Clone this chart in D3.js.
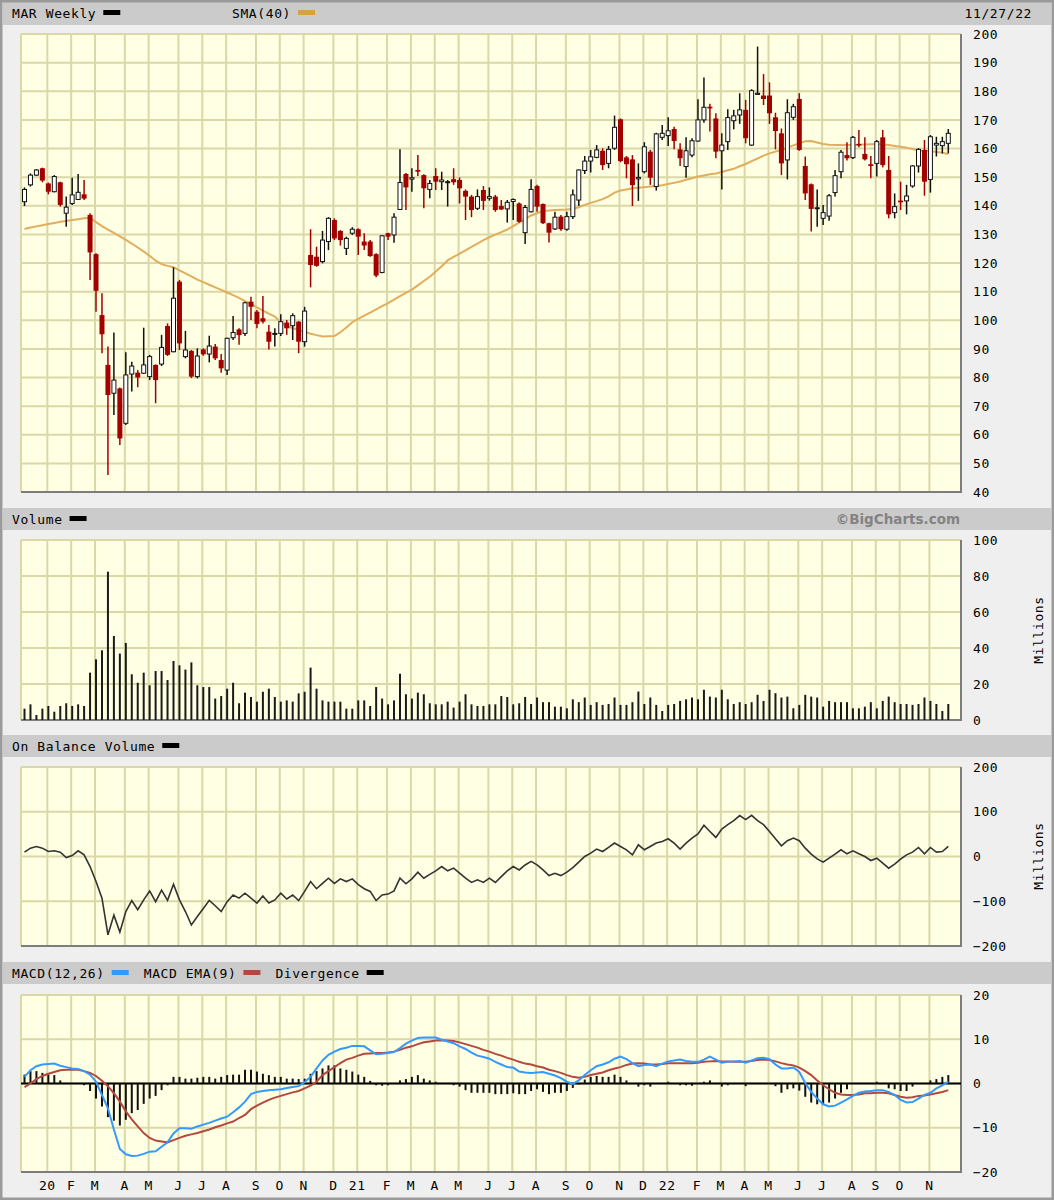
<!DOCTYPE html>
<html>
<head>
<meta charset="utf-8">
<script src="https://cdn.jsdelivr.net/npm/d3@7"></script>
<style>
  body { margin: 0; background: #fff; }
  svg text { font-family: "DejaVu Sans Mono", monospace; font-size: 13px; letter-spacing: 0.6px; fill: #000; }
</style>
</head>
<body>
<div id="chart"></div>
<script>
// ---- data (one entry per week, first week Mon Dec 2 2019) ----
const opens = [141.4,147.3,150.7,153.1,147.8,144.9,148.2,137.4,140.8,142.2,
  144.0,136.8,123.1,101.8,84.4,74.5,76.2,64.0,81.2,81.7,
  81.5,80.3,84.4,84.7,98.0,89.0,113.5,87.3,89.3,80.3,
  89.8,88.2,90.8,86.1,82.6,93.9,96.8,95.4,106.5,103.0,
  100.7,96.0,95.1,95.4,99.2,98.1,99.5,92.5,122.8,122.2,
  120.5,127.5,135.0,131.2,125.1,130.4,131.8,127.5,127.5,123.1,
  116.7,130.4,129.8,138.7,151.1,149.3,152.5,150.7,145.7,150.4,
  148.4,148.1,149.3,149.0,145.2,143.2,139.1,145.5,142.6,143.2,
  139.9,138.9,141.5,140.8,130.6,137.9,146.9,140.6,133.9,131.9,
  136.2,131.8,136.2,142.0,152.3,155.6,156.9,159.2,154.8,160.1,
  170.2,156.9,156.2,149.4,151.9,158.9,146.7,163.9,164.5,166.8,
  159.7,153.7,157.7,162.6,170.0,174.6,170.5,159.2,162.4,169.7,
  171.7,173.5,161.2,178.9,178.5,178.5,170.9,165.3,156.0,170.9,
  177.3,153.9,147.5,139.0,135.6,136.4,144.6,151.9,157.7,156.8,
  161.6,158.1,154.5,154.8,163.9,152.5,137.6,141.8,141.7,146.9,
  153.9,159.5,149.2,161.2,161.0,161.8];
const highs = [146.4,151.3,152.8,153.3,148.1,150.7,148.4,143.2,149.8,151.1,
  149.0,137.4,123.4,109.4,90.8,95.7,76.5,88.8,85.5,82.6,
  97.4,87.9,84.6,94.9,98.9,118.5,114.1,96.3,89.6,90.2,
  90.2,94.6,91.7,88.2,93.9,101.5,97.2,106.5,108.2,103.6,
  108.5,98.3,97.2,102.1,100.1,102.4,99.7,104.7,131.8,125.7,
  131.2,136.0,135.6,131.5,129.2,132.5,132.1,130.4,128.0,123.4,
  129.8,130.6,137.4,159.7,151.4,153.1,157.7,151.0,149.0,153.1,
  151.9,149.0,153.1,149.9,145.7,143.8,145.7,146.9,146.4,143.8,
  142.0,142.0,142.5,141.1,140.3,149.3,147.3,140.8,134.1,137.9,
  136.8,137.9,145.7,152.7,157.4,159.5,161.2,160.1,160.9,171.5,
  170.5,157.4,157.7,154.8,162.2,159.5,165.5,168.2,170.9,167.6,
  161.8,163.9,163.6,177.2,184.8,175.6,172.3,165.3,173.7,173.5,
  179.3,177.0,180.7,195.6,186.0,183.1,172.5,167.0,177.2,175.6,
  179.3,157.2,147.8,145.7,140.3,144.1,152.5,159.5,162.2,164.4,
  166.5,163.9,157.4,163.0,166.5,157.4,144.3,148.4,147.3,154.2,
  160.1,163.0,164.7,164.1,164.1,166.8];
const lows = [139.9,146.7,150.4,148.2,144.0,144.7,139.7,132.7,140.3,142.0,
  142.0,114.1,103.0,88.5,45.9,66.9,56.4,63.4,75.1,76.6,
  81.2,79.1,71.0,84.0,87.5,88.8,89.6,86.7,79.8,79.7,
  87.6,85.3,86.1,81.7,80.9,93.1,91.4,94.5,100.1,97.2,
  98.9,89.8,90.8,94.5,94.9,93.1,88.5,90.8,111.5,118.7,
  119.9,124.5,128.0,126.1,122.8,129.8,122.8,124.5,122.2,115.0,
  116.4,128.0,127.1,138.5,138.5,144.9,150.4,139.1,142.6,145.5,
  145.5,139.7,147.3,140.8,135.0,136.0,138.5,138.5,141.8,137.9,
  138.5,134.1,135.0,134.1,126.6,137.6,137.9,133.6,127.2,131.5,
  131.3,131.3,135.4,139.9,151.1,151.6,156.6,152.5,153.1,159.5,
  155.2,149.6,139.9,141.7,151.3,147.3,145.3,163.0,160.9,159.7,
  153.9,149.8,156.9,162.4,169.0,165.9,156.6,145.7,159.5,166.7,
  168.6,161.8,160.9,178.7,175.2,168.6,159.7,150.7,149.2,170.0,
  159.2,142.0,131.0,132.7,133.3,134.8,143.2,149.6,155.8,156.3,
  160.4,155.8,149.6,150.2,153.4,135.6,135.6,138.5,137.0,146.3,
  151.6,143.5,144.6,157.2,158.3,158.3];
const closes = [145.7,150.7,152.5,148.8,144.9,150.2,140.3,139.5,143.8,144.7,
  142.5,123.7,110.3,95.1,73.9,79.1,58.7,80.9,84.0,80.0,
  84.4,87.3,79.1,90.5,87.9,107.7,91.9,89.6,80.3,87.5,
  88.1,91.0,86.7,83.2,93.7,95.7,94.8,106.1,104.7,98.7,
  99.5,92.5,95.4,99.5,97.2,101.6,92.5,103.2,119.3,119.0,
  128.0,135.6,128.6,128.0,128.6,131.8,129.2,126.1,122.4,115.6,
  129.5,129.2,136.0,148.1,146.4,149.8,151.9,146.1,147.8,148.4,
  149.0,148.4,148.2,146.1,143.2,138.5,143.2,141.7,143.2,138.5,
  138.7,141.2,142.2,134.4,139.4,145.7,139.7,133.9,130.6,136.0,
  131.8,136.2,143.8,152.5,155.6,157.1,159.5,154.2,159.7,167.4,
  155.6,154.5,147.2,149.9,160.6,149.8,165.1,165.3,166.2,162.6,
  156.6,159.2,162.7,170.0,174.4,174.0,158.9,161.2,170.8,171.4,
  173.5,163.6,180.2,179.3,177.3,172.3,166.1,154.8,172.5,174.6,
  159.5,144.3,138.9,139.3,137.6,143.5,150.5,158.7,156.6,163.9,
  161.1,156.2,153.9,162.4,154.2,137.0,139.7,141.2,143.4,153.9,
  159.7,148.4,164.1,161.8,162.4,165.3];
const sma40 = [131.9,132.4,132.8,133.2,133.6,134.0,134.4,134.7,135.0,135.3,
  135.6,135.8,134.3,132.9,131.7,130.5,129.3,128.1,126.8,125.4,
  124.0,122.5,120.8,119.6,119.0,118.5,117.4,116.4,115.3,114.2,
  113.3,112.4,111.5,110.6,109.7,108.8,107.8,106.7,105.7,104.5,
  103.4,102.3,101.3,99.3,97.8,97.3,96.6,96.0,95.3,94.8,
  94.3,94.4,94.5,95.8,97.5,99.3,100.5,101.6,102.7,103.8,
  104.9,106.0,107.2,108.4,109.6,110.7,112.2,113.7,115.2,117.0,
  118.9,120.9,122.1,123.3,124.4,125.6,126.8,128.0,129.0,129.9,
  130.8,131.7,132.9,134.1,135.3,136.6,137.4,138.2,138.3,138.5,
  138.6,138.7,138.9,139.5,140.3,141.0,141.6,142.3,143.3,144.6,
  145.3,145.7,146.1,146.3,146.5,146.7,146.9,147.2,147.6,148.0,
  148.5,149.1,149.6,150.2,150.6,151.0,151.3,151.8,152.4,152.9,
  153.8,154.6,155.6,156.5,157.5,158.3,158.9,159.5,160.3,161.1,
  161.8,162.5,162.6,162.1,161.6,161.3,161.2,161.2,161.2,161.2,
  161.3,161.4,161.5,161.6,161.4,161.2,160.9,160.6,160.3,159.8,
  159.3,159.2,159.1,158.8,158.5,158.1];
// millions of shares
const volumes = [6.3,8.7,2.8,6.3,7.8,4.6,7.8,9.3,7.8,8.7,
  7.8,26.3,33.7,38.7,82.4,46.7,36.9,42.8,25.4,20.7,
  26.3,19.3,27.2,27.2,22.2,32.8,30.4,28.0,32.0,19.3,
  18.3,18.3,11.9,13.3,17.4,20.7,9.3,15.2,12.8,10.2,
  15.7,17.4,12.8,10.2,10.9,10.2,14.8,15.7,29.1,17.4,
  10.9,10.2,10.2,10.2,6.3,6.3,10.9,10.9,7.8,18.3,
  11.9,8.7,10.9,25.7,14.3,11.9,15.2,14.3,9.3,8.7,
  8.7,10.2,6.9,10.2,14.3,8.7,7.8,7.8,8.7,8.7,
  13.3,12.8,8.7,9.3,12.8,8.9,12.5,9.9,9.9,7.4,
  7.4,6.5,11.5,9.9,12.5,8.4,9.9,8.4,8.9,12.5,
  8.4,8.4,9.9,15.8,8.9,12.5,8.4,5.0,8.4,8.9,
  10.6,11.5,12.5,11.5,16.8,13.0,12.5,16.8,11.5,8.9,
  9.9,8.9,9.9,14.0,10.6,16.8,14.9,12.5,13.0,6.5,
  8.4,14.0,13.0,12.5,7.4,10.6,9.9,9.9,9.9,6.5,
  6.5,7.4,9.9,6.5,10.6,13.0,9.9,8.9,8.9,8.4,
  8.9,12.5,10.6,8.9,5.0,8.9];
const obv = [9.7,18.7,22.4,18.7,11.2,12.7,9.7,-2.2,2.2,12.7,
  3.7,-22.4,-56,-93,-175,-131,-169,-123,-98.5,-119,
  -97,-77,-101,-75,-98,-62,-97,-123,-153,-134,
  -116,-98,-110,-123,-101,-86,-93,-82,-93,-104,
  -88,-104,-97,-82,-95,-86,-98.5,-78,-56,-72,
  -60,-48.5,-60,-50,-56,-50,-63,-72,-78,-98.5,
  -86,-84,-77,-48.5,-61,-50,-35,-48.5,-40,-32,
  -22.4,-32,-26,-37,-48.5,-58,-52,-58,-48.5,-58,
  -45,-32,-22.4,-30,-19,-11,-18.7,-30,-42.7,-37.5,
  -42.7,-35,-24.7,-12.7,0,7.5,16.5,11.2,20.2,30,
  22.5,15,3.7,26.2,15,22.5,30,33.7,39.7,30,
  16.5,30,41.2,50.2,69.7,56,42.7,61.4,71.2,80.1,
  91.4,82.4,92.1,80.1,71.2,56,39.7,24,35.2,41.2,
  35.2,18.7,5.2,-5.2,-12.7,-3.7,5.2,15,6,12.7,
  6,0,-9,-3.7,-15,-26.2,-17.2,-6,3.7,9.7,
  20.2,6,20.2,9.7,11.2,22.5];
const macd = [1.5,3.0,3.9,4.3,4.4,4.5,4.0,3.7,3.4,3.3,
  2.8,2.0,0.4,-2.6,-5.6,-10.4,-14.8,-16.0,-16.4,-16.3,
  -15.9,-15.4,-15.3,-14.3,-13.3,-11.3,-10.1,-10.1,-10.2,-9.7,
  -9.3,-8.9,-8.4,-7.9,-7.5,-6.5,-5.4,-4.1,-2.4,-1.9,
  -1.7,-1.5,-1.4,-1.3,-1.0,-0.8,-0.6,0.3,1.5,3.4,
  5.2,6.5,7.2,7.8,8.1,8.5,8.5,8.4,7.5,6.6,
  6.7,6.9,7.1,8.0,9.0,9.7,10.3,10.4,10.4,10.4,
  9.9,9.5,9.1,8.4,7.8,7.0,6.3,6.0,5.6,4.9,
  4.3,3.7,3.6,2.7,2.5,2.4,2.5,2.6,2.2,1.8,
  1.2,0.4,-0.1,0.7,1.9,3.0,3.9,4.3,4.8,5.6,
  6.1,5.5,4.6,3.9,4.2,4.3,3.9,4.5,5.0,5.2,
  5.4,5.1,4.9,4.9,5.4,6.1,5.4,4.7,4.9,5.0,
  5.1,4.7,5.2,5.7,5.8,5.5,4.3,3.4,3.4,3.6,
  2.6,0.1,-1.9,-3.4,-4.7,-5.2,-5.0,-4.3,-3.6,-2.8,
  -2.1,-1.8,-1.7,-1.5,-1.5,-1.9,-2.6,-3.7,-4.3,-4.2,
  -3.4,-2.6,-2.1,-1.1,-0.4,0.4];
const macdEma = [-0.8,0.0,1.0,1.7,2.2,2.6,3.0,3.1,3.1,3.1,
  2.8,2.4,1.7,0.6,-0.6,-2.2,-4.1,-6.3,-8.1,-9.7,
  -11.2,-12.3,-12.9,-13.1,-13.3,-12.8,-12.3,-11.8,-11.5,-11.2,
  -10.8,-10.4,-9.9,-9.5,-9.0,-8.6,-7.8,-7.1,-5.8,-5.0,
  -4.3,-3.7,-3.2,-2.8,-2.4,-2.0,-1.7,-1.1,-0.5,0.4,
  1.9,2.8,3.7,4.6,5.4,5.8,6.3,6.7,6.8,6.9,
  6.9,7.0,7.2,7.6,8.1,8.4,8.9,9.3,9.5,9.7,
  9.8,9.7,9.6,9.3,8.9,8.5,8.1,7.6,7.2,6.7,
  6.3,5.8,5.4,4.9,4.5,4.3,3.9,3.6,3.1,2.8,
  2.4,1.9,1.5,1.3,1.5,1.9,2.2,2.5,3.0,3.4,
  3.7,4.2,4.5,4.6,4.5,4.3,4.3,4.4,4.6,4.6,
  4.6,4.6,4.6,4.7,4.9,5.0,5.1,5.0,5.0,4.9,
  4.9,4.9,5.1,5.3,5.4,5.3,5.0,4.6,4.3,4.1,
  3.6,2.8,1.9,0.7,-0.4,-1.3,-2.1,-2.5,-2.6,-2.6,
  -2.5,-2.2,-2.2,-2.1,-2.1,-2.2,-2.6,-3.0,-3.2,-3.1,
  -2.8,-2.7,-2.5,-2.2,-1.9,-1.5];
const divergence = [2.0,2.8,2.8,2.4,2.0,1.9,0.7,0.0,0.0,0.0,
  -0.4,-1.7,-3.4,-5.2,-7.6,-8.4,-9.5,-8.2,-6.7,-6.0,
  -4.6,-3.4,-2.8,-1.5,-0.4,1.5,1.5,1.1,1.1,1.3,
  1.5,1.5,1.1,1.5,1.9,2.0,2.0,3.1,3.1,2.7,
  2.2,1.9,1.5,1.5,1.1,1.1,1.0,1.1,2.2,2.8,
  3.4,4.1,4.1,3.4,3.1,2.7,2.0,1.5,0.6,-0.4,
  -0.5,-0.4,0.0,0.7,1.0,1.5,1.9,1.1,0.7,0.4,
  0.0,0.0,-0.4,-0.7,-1.5,-2.1,-2.1,-2.1,-2.1,-2.4,
  -2.4,-2.4,-2.2,-2.4,-2.4,-1.7,-1.3,-1.9,-2.4,-2.1,
  -2.1,-1.7,-1.0,-0.2,0.9,1.5,1.7,1.5,1.5,2.0,
  1.5,0.7,0.0,-0.7,-0.4,-0.7,0.0,0.0,0.4,0.0,
  -0.4,-0.4,-0.5,0.0,0.4,0.7,0.0,-0.7,-0.4,0.0,
  0.0,-0.6,0.0,0.0,0.0,0.0,-0.6,-2.1,-1.3,-1.1,
  -1.6,-3.0,-4.3,-4.7,-4.7,-4.3,-3.4,-2.1,-1.3,0.0,
  0.0,0.0,0.0,0.4,0.0,-1.1,-1.3,-1.7,-1.7,-0.7,
  0.0,0.0,0.7,1.0,1.5,1.9];

const monthLabels = ["20","F","M","A","M","J","J","A","S","O","N","D",
  "21","F","M","A","M","J","J","A","S","O","N","D",
  "22","F","M","A","M","J","J","A","S","O","N"];
const priceTicks = [40,50,60,70,80,90,100,110,120,130,140,150,160,170,180,190,200];
const volumeTicks = [0,20,40,60,80,100];
const obvTicks = [-200,-100,0,100,200];
const macdTicks = [-20,-10,0,10,20];

// ---- layout ----
const W = 1054, H = 1200;
const plotLeft = 21, plotRight = 961;
const gridColor = "#d9d8a6";
const plotFill = "#ffffe4";

const weeks = d3.timeMonday.range(new Date(2019, 11, 2), new Date(2022, 10, 22));
const months = d3.timeMonth.range(new Date(2020, 0, 1), new Date(2022, 10, 2));

const x = d3.scaleTime()
	.domain([weeks[0], weeks[weeks.length - 1]])
	.range([24.5, 948.3]);
// BigCharts puts the month line on the week that holds the 1st of the month
const gridX = (m) => x(d3.timeMonday.floor(m)) - 1;

const svg = d3.select("#chart").append("svg")
	.attr("width", W).attr("height", H);

svg.append("rect").attr("width", W).attr("height", H).attr("fill", "#efefef");

// grey title bands
[[0, 25], [508, 22], [735, 22], [962, 22]].forEach(([y, h]) => {
	svg.append("rect").attr("x", 3).attr("y", y).attr("width", W - 6).attr("height", h).attr("fill", "#cbcbcb");
});

function drawPanel(top, bottom, y, ticks) {
	const g = svg.append("g");
	g.append("rect")
		.attr("x", plotLeft).attr("y", top)
		.attr("width", plotRight - plotLeft).attr("height", bottom - top)
		.attr("fill", plotFill);

	g.selectAll(".hgrid").data(ticks).join("line")
		.attr("x1", plotLeft).attr("x2", plotRight)
		.attr("y1", (d) => y(d)).attr("y2", (d) => y(d))
		.attr("stroke", gridColor).attr("stroke-width", 2);

	g.selectAll(".vgrid").data(months).join("line")
		.attr("x1", gridX).attr("x2", gridX)
		.attr("y1", top).attr("y2", bottom)
		.attr("stroke", gridColor).attr("stroke-width", 2);

	// left edge light, right + bottom edge dark
	g.append("line").attr("x1", plotLeft).attr("x2", plotLeft).attr("y1", top).attr("y2", bottom)
		.attr("stroke", gridColor).attr("stroke-width", 2);
	g.append("path")
		.attr("d", `M${plotLeft},${bottom}H${plotRight}V${top}`)
		.attr("fill", "none").attr("stroke", "#7d7d7d").attr("stroke-width", 2);

	const axis = g.append("g")
		.attr("transform", `translate(${plotRight},0)`)
		.call(d3.axisRight(y).tickValues(ticks).tickSize(0).tickPadding(12));
	axis.select(".domain").remove();
	return g;
}

// legend: text followed by a small colour bar
function legend(items, startX, baseline) {
	let cx = startX;
	items.forEach(([label, color]) => {
		const t = svg.append("text").attr("x", cx).attr("y", baseline).text(label);
		cx += t.node().getComputedTextLength() + 7;
		svg.append("rect").attr("x", cx).attr("y", baseline - 8).attr("width", 17).attr("height", 5).attr("fill", color);
		cx += 17 + 15;
	});
}

// ---- price panel ----
const yPrice = d3.scaleLinear().domain([40, 200]).range([492, 34]);
const price = drawPanel(34, 492, yPrice, priceTicks);

const bars = weeks.map((d, i) => ({
	date: d, open: opens[i], high: highs[i], low: lows[i], close: closes[i],
}));

price.append("path")
	.datum(sma40)
	.attr("fill", "none")
	.attr("stroke", "#e2ad5c")
	.attr("stroke-width", 2)
	.attr("d", d3.line().x((d, i) => x(weeks[i])).y((d) => yPrice(d)));

const candles = price.append("g").selectAll("g").data(bars).join("g");
candles.append("line")
	.attr("x1", (d) => x(d.date)).attr("x2", (d) => x(d.date))
	.attr("y1", (d) => yPrice(d.high)).attr("y2", (d) => yPrice(d.low))
	.attr("stroke", (d) => (d.close >= d.open ? "#111" : "#a30000"))
	.attr("stroke-width", 1.5);
candles.append("rect")
	.attr("x", (d) => x(d.date) - (d.close >= d.open ? 2 : 2.5))
	.attr("width", (d) => (d.close >= d.open ? 4 : 5))
	.attr("y", (d) => yPrice(Math.max(d.open, d.close)))
	.attr("height", (d) => Math.max(1, Math.abs(yPrice(d.open) - yPrice(d.close))))
	.attr("fill", (d) => (d.close >= d.open ? "#fff" : "#a30000"))
	.attr("stroke", (d) => (d.close >= d.open ? "#111" : "none"))
	.attr("stroke-width", 1);

// ---- volume panel ----
const yVol = d3.scaleLinear().domain([0, 100]).range([720, 540]);
const vol = drawPanel(540, 720, yVol, volumeTicks);
vol.append("g").selectAll("line").data(volumes).join("line")
	.attr("x1", (d, i) => x(weeks[i])).attr("x2", (d, i) => x(weeks[i]))
	.attr("y1", yVol(0)).attr("y2", (d) => yVol(d))
	.attr("stroke", "#1a1a1a").attr("stroke-width", 2);

// ---- on balance volume ----
const yObv = d3.scaleLinear().domain([-200, 200]).range([946, 767]);
const obvPanel = drawPanel(767, 946, yObv, obvTicks);
obvPanel.append("path")
	.datum(obv)
	.attr("fill", "none").attr("stroke", "#333").attr("stroke-width", 1.6)
	.attr("d", d3.line().x((d, i) => x(weeks[i])).y((d) => yObv(d)));

// ---- MACD ----
const yMacd = d3.scaleLinear().domain([-20, 20]).range([1172, 995]);
const macdPanel = drawPanel(995, 1172, yMacd, macdTicks);
macdPanel.append("line")
	.attr("x1", plotLeft).attr("x2", plotRight)
	.attr("y1", yMacd(0)).attr("y2", yMacd(0))
	.attr("stroke", "#000").attr("stroke-width", 2);
macdPanel.append("g").selectAll("line").data(divergence).join("line")
	.attr("x1", (d, i) => x(weeks[i])).attr("x2", (d, i) => x(weeks[i]))
	.attr("y1", yMacd(0)).attr("y2", (d) => yMacd(d))
	.attr("stroke", "#111").attr("stroke-width", 2);
macdPanel.append("path")
	.datum(macdEma)
	.attr("fill", "none").attr("stroke", "#b4483f").attr("stroke-width", 2)
	.attr("d", d3.line().x((d, i) => x(weeks[i])).y((d) => yMacd(d)));
macdPanel.append("path")
	.datum(macd)
	.attr("fill", "none").attr("stroke", "#3399ff").attr("stroke-width", 2)
	.attr("d", d3.line().x((d, i) => x(weeks[i])).y((d) => yMacd(d)));

// month labels under the last panel
svg.append("g").selectAll("text").data(months).join("text")
	.attr("x", gridX).attr("y", 1190)
	.attr("text-anchor", "middle")
	.text((d, i) => monthLabels[i]);

// "Millions" unit labels
[[630], [856]].forEach(([cy]) => {
	svg.append("text")
		.attr("transform", `translate(1043,${cy}) rotate(-90)`)
		.attr("text-anchor", "middle")
		.text("Millions");
});

// titles + legends
legend([["MAR Weekly", "#000"]], 12, 18);
legend([["SMA(40)", "#d9a13f"]], 232, 18);
svg.append("text").attr("x", 1032).attr("y", 18).attr("text-anchor", "end").text("11/27/22");
legend([["Volume", "#000"]], 12, 524);
svg.append("text")
	.attr("x", 960).attr("y", 524).attr("text-anchor", "end")
	.style("font-family", "'DejaVu Sans', sans-serif").style("font-weight", "bold")
	.style("font-size", "13.5px").style("letter-spacing", "0px").style("fill", "#838383")
	.text("©BigCharts.com");
legend([["On Balance Volume", "#000"]], 12, 751);
legend([["MACD(12,26)", "#3399ff"], ["MACD EMA(9)", "#b4483f"], ["Divergence", "#000"]], 12, 978);

// outer frame
svg.append("rect").attr("x", 1).attr("y", 1).attr("width", W - 2).attr("height", H - 2)
	.attr("fill", "none").attr("stroke", "#9a9a9a").attr("stroke-width", 3);
</script>
</body>
</html>
